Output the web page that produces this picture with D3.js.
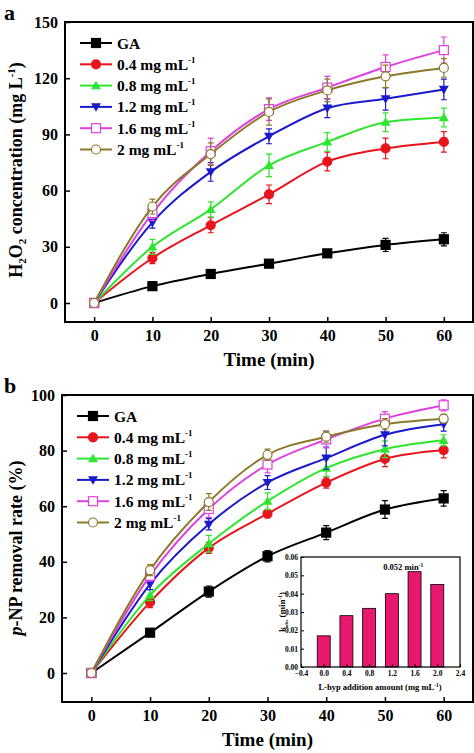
<!DOCTYPE html><html><head><meta charset="utf-8"><script src="https://cdn.jsdelivr.net/npm/d3@7"></script>
<style>body{margin:0;background:#fff}svg{font-family:"Liberation Serif",serif;font-weight:bold}</style></head><body><svg id="c" width="474" height="753"></svg><script>
const times=[0,10,20,30,40,50,60];
const seriesNames=["GA","0.4 mg mL","0.8 mg mL","1.2 mg mL","1.6 mg mL","2 mg mL"];
const colors=["#000000","#e8141b","#2ee62e","#1a1acc","#e040e0","#8b7a2a"];
const shapes=["square","circle","triangle","tridown","osquare","ocircle"];
const h2o2=[[0,9,15.5,21,26.5,31,34],[0,24,41.5,58,75.5,82.5,86],[0,30,50,73.5,86,96.5,99],[0,43,70,89,104,109,114],[0,48,81,103.5,115,126,135],[0,51.5,79.5,102,113.5,121,125.5]];
const h2o2Err=[[0,1,1,1.5,1.5,3.5,3.5],[0,3,4,5,5,5.5,5.5],[0,4,4,6,5,5,5],[0,3,5,4,5,6,5.5],[0,4,7,6,6,6.5,7],[0,4,6,7,6,6,5]];
const pnp=[[0,14.5,29.3,42,50.5,58.8,62.8],[0,25.5,45,57.3,68.5,77,80.2],[0,28,46.5,61.8,73.7,80.5,83.7],[0,32,53.5,68.5,77.3,85.7,89.5],[0,35,59,75,84,91.5,96.3],[0,37,61.5,78.5,85,89.5,91.5]];
const pnpErr=[[0,0.8,2,2,2.5,3.2,2.8],[0,2,2,1.5,2,2.8,2.8],[0,2,3,3,3,3,2],[0,2,2,2.5,4,4,2.5],[0,2,3,3,3,2.5,2],[0,2,3,2,2,2,1.5]];
const insetX=[0.0,0.4,0.8,1.2,1.6,2.0];
const insetK=[0.017,0.028,0.032,0.040,0.052,0.045];
const svg=d3.select("#c");
function sym(g,s,c,x,y){const r=4.5;
 if(s=="square"||s=="osquare")g.append("rect").attr("x",x-r).attr("y",y-r).attr("width",2*r).attr("height",2*r).attr("fill",s=="square"?c:"#fff").attr("stroke",c).attr("stroke-width",1.2);
 else if(s=="circle"||s=="ocircle")g.append("circle").attr("cx",x).attr("cy",y).attr("r",r).attr("fill",s=="circle"?c:"#fff").attr("stroke",c).attr("stroke-width",1.2);
 else {const d=s=="triangle"?1:-1;g.append("path").attr("d",`M${x},${y-d*r*1.1}L${x+r*1.1},${y+d*r*0.8}L${x-r*1.1},${y+d*r*0.8}Z`).attr("fill",c);}
}
function panel(o){
 const x=d3.scaleLinear().domain([-5,65]).range([o.l,o.r]);
 const y=d3.scaleLinear().domain(o.yd).range([o.b,o.t]);
 const g=svg.append("g");
 g.append("g").attr("transform",`translate(0,${o.b})`).call(d3.axisBottom(x).tickValues(times).tickSize(-5).tickPadding(8)).call(a=>{a.select(".domain").remove();a.selectAll("text").attr("font-size",16).attr("font-family","Liberation Serif").attr("font-weight","bold");a.selectAll("line").attr("stroke-width",1.5)});
 g.append("g").attr("transform",`translate(${o.l},0)`).call(d3.axisLeft(y).tickValues(o.yt).tickSize(-5).tickPadding(7)).call(a=>{a.select(".domain").remove();a.selectAll("text").attr("font-size",16).attr("font-family","Liberation Serif").attr("font-weight","bold");a.selectAll("line").attr("stroke-width",1.5)});
 g.append("rect").attr("x",o.l).attr("y",o.t).attr("width",o.r-o.l).attr("height",o.b-o.t).attr("fill","none").attr("stroke","#000").attr("stroke-width",2);
 const line=d3.line().x((d,i)=>x(times[i])).y(d=>y(d)).curve(d3.curveMonotoneX);
 o.data.forEach((s,k)=>{
  g.append("path").attr("d",line(s)).attr("fill","none").attr("stroke",colors[k]).attr("stroke-width",2);
  s.forEach((v,i)=>{const e=o.err[k][i];if(e>0){g.append("path").attr("d",`M${x(times[i])},${y(v-e)}V${y(v+e)}M${x(times[i])-3},${y(v-e)}h6M${x(times[i])-3},${y(v+e)}h6`).attr("stroke",colors[k]).attr("stroke-width",1.2).attr("fill","none");}
   sym(g,shapes[k],colors[k],x(times[i]),y(v));});
 });
 seriesNames.forEach((n,k)=>{const ly=o.t+21+k*21.3;
  g.append("line").attr("x1",o.l+15).attr("x2",o.l+47).attr("y1",ly).attr("y2",ly).attr("stroke",colors[k]).attr("stroke-width",2);
  sym(g,shapes[k],colors[k],o.l+31,ly);
  const t=g.append("text").attr("x",o.l+52).attr("y",ly+5.5).attr("font-size",15.5).text(n);
  if(k>0)t.append("tspan").attr("dy",-7).attr("font-size",9).text("-1");});
 g.append("text").attr("x",(o.l+o.r)/2).attr("y",o.b+44).attr("text-anchor","middle").attr("font-size",19).text("Time (min)");
 g.append("text").attr("x",4).attr("y",o.t-2).attr("font-size",22).text(o.lab);
 return {x,y};
}
panel({l:65,r:473,t:22,b:322,yd:[-150*19/281,150],yt:[0,30,60,90,120,150],data:h2o2,err:h2o2Err,lab:"a"});
const yl=svg.append("text").attr("transform","translate(22,170) rotate(-90)").attr("text-anchor","middle").attr("font-size",18);
yl.append("tspan").text("H");yl.append("tspan").attr("font-size",11).attr("dy",4).text("2");yl.append("tspan").attr("dy",-4).text("O");yl.append("tspan").attr("font-size",11).attr("dy",4).text("2");yl.append("tspan").attr("dy",-4).text(" concentration (mg L");yl.append("tspan").attr("font-size",11).attr("dy",-7).text("-1");yl.append("tspan").attr("dy",7).text(")");
panel({l:62,r:473,t:395,b:702,yd:[-100*29/278,100],yt:[0,20,40,60,80,100],data:pnp,err:pnpErr,lab:"b"});
const y2=svg.append("text").attr("transform","translate(22,548) rotate(-90)").attr("text-anchor","middle").attr("font-size",18);
y2.append("tspan").attr("font-style","italic").text("p");y2.append("tspan").text("-NP removal rate (%)");
// inset
const ix=d3.scaleLinear().domain([-0.4,2.4]).range([301,460]);
const iy=d3.scaleLinear().domain([0,0.06]).range([667,557]);
const ig=svg.append("g");
ig.append("rect").attr("x",301).attr("y",557).attr("width",159).attr("height",110).attr("fill","#fff");
ig.selectAll("rect.b").data(insetK).join("rect").attr("class","b").attr("x",(d,i)=>ix(insetX[i])-6.5).attr("width",13).attr("y",d=>iy(d)).attr("height",d=>iy(0)-iy(d)).attr("fill","#e8186e").attr("stroke","#000").attr("stroke-width",0.8);
ig.append("g").attr("transform","translate(0,667)").call(d3.axisBottom(ix).tickValues(d3.range(-0.4,2.41,0.4)).tickFormat(d3.format(".1f")).tickSize(-3).tickPadding(4)).call(a=>{a.select(".domain").remove();a.selectAll("text").attr("font-size",7.5).attr("font-family","Liberation Serif")});
ig.append("g").attr("transform","translate(301,0)").call(d3.axisLeft(iy).tickValues(d3.range(0,0.061,0.01)).tickFormat(d3.format(".2f")).tickSize(-3).tickPadding(3)).call(a=>{a.select(".domain").remove();a.selectAll("text").attr("font-size",7.5).attr("font-family","Liberation Serif")});
ig.append("rect").attr("x",301).attr("y",557).attr("width",159).attr("height",110).attr("fill","none").attr("stroke","#000").attr("stroke-width",1.2);
const it=ig.append("text").attr("x",ix(1.4)).attr("y",570).attr("text-anchor","middle").attr("font-size",8.5);it.append("tspan").text("0.052 min");it.append("tspan").attr("dy",-3).attr("font-size",5.5).text("-1");
const ixl=ig.append("text").attr("x",380).attr("y",690).attr("text-anchor","middle").attr("font-size",8.5);ixl.append("tspan").text("L-hyp addition amount (mg mL");ixl.append("tspan").attr("dy",-3).attr("font-size",5.5).text("-1");ixl.append("tspan").attr("dy",3).text(")");
const iyl=ig.append("text").attr("transform","translate(285,612) rotate(-90)").attr("text-anchor","middle").attr("font-size",9);iyl.append("tspan").text("k");iyl.append("tspan").attr("font-size",5).attr("dy",3).text("obs");iyl.append("tspan").attr("dy",-3).text(" (min");iyl.append("tspan").attr("font-size",5.5).attr("dy",-3).text("-1");iyl.append("tspan").attr("dy",3).text(")");
</script></body></html>
